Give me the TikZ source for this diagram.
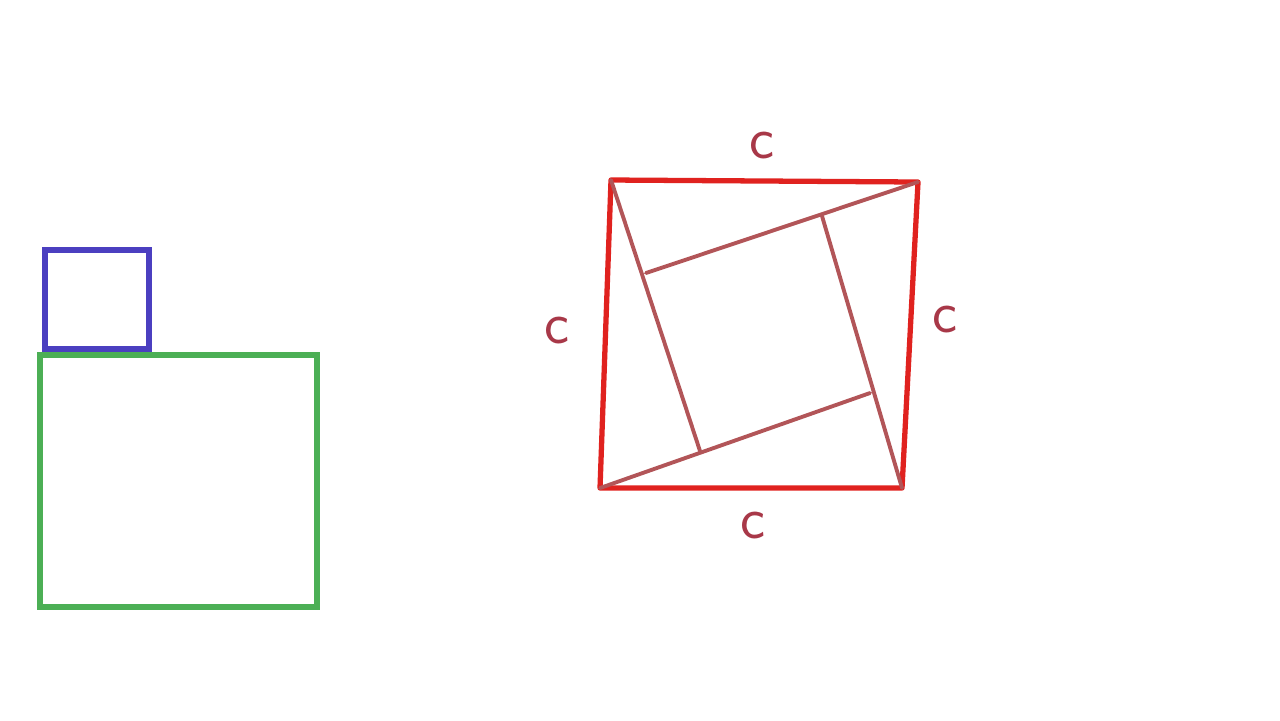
\documentclass[tikz,border=0pt]{standalone}
\usepackage{tikz}
\usetikzlibrary{positioning}
\usepackage{xcolor}

\definecolor{sqblue}{HTML}{4B3FC0}
\definecolor{sqgreen}{HTML}{4CAF55}
\definecolor{sqred}{HTML}{E0221F}
\definecolor{legred}{HTML}{B25558}
\definecolor{inkred}{HTML}{A83848}

\tikzset{
  outer/.style={draw=sqred, line width=1.5pt, line join=round, line cap=round},
  leg/.style={draw=legred, line width=1.1pt, line cap=round},
  side/.style={text=inkred, font=\sffamily\fontsize{17}{17}\selectfont, inner sep=0pt}
}

\begin{document}
\begin{tikzpicture}[x=0.01cm, y=-0.01cm]
      \useasboundingbox (0,0) rectangle (1280,720);

      % Kwadraty a i b
      \begin{scope}[local bounding box=ab]
        \draw [sqblue, line width=1.5pt] (45,250) rectangle (149,349);
        \draw [sqgreen, line width=1.5pt] (40,355) rectangle (317,607);
      \end{scope}

      % Kwadrat c
      \coordinate (A) at (611,180);
      \coordinate (B) at (918,182);
      \coordinate (C) at (902,488);
      \coordinate (D) at (600,488);
      \draw [outer] (A) -- (B) -- (C) -- (D) -- cycle;

      % Trojkaty
      \coordinate (P) at (700,451);
      \coordinate (Q) at (646,273);
      \coordinate (R) at (822,216);
      \coordinate (S) at (870,393);
      \draw [leg] (A) -- (P);
      \draw [leg] (Q) -- (B);
      \draw [leg] (R) -- (C);
      \draw [leg] (D) -- (S);

      % Boki
      \node [side] (ctop) at (762,146) {c};
      \node [side] (cleft) at (557,331) {c};
      \node [side] (cright) at (945,320) {c};
      \node [side] (cbot) at (753,525) {c};
    \end{tikzpicture}
\end{document}
